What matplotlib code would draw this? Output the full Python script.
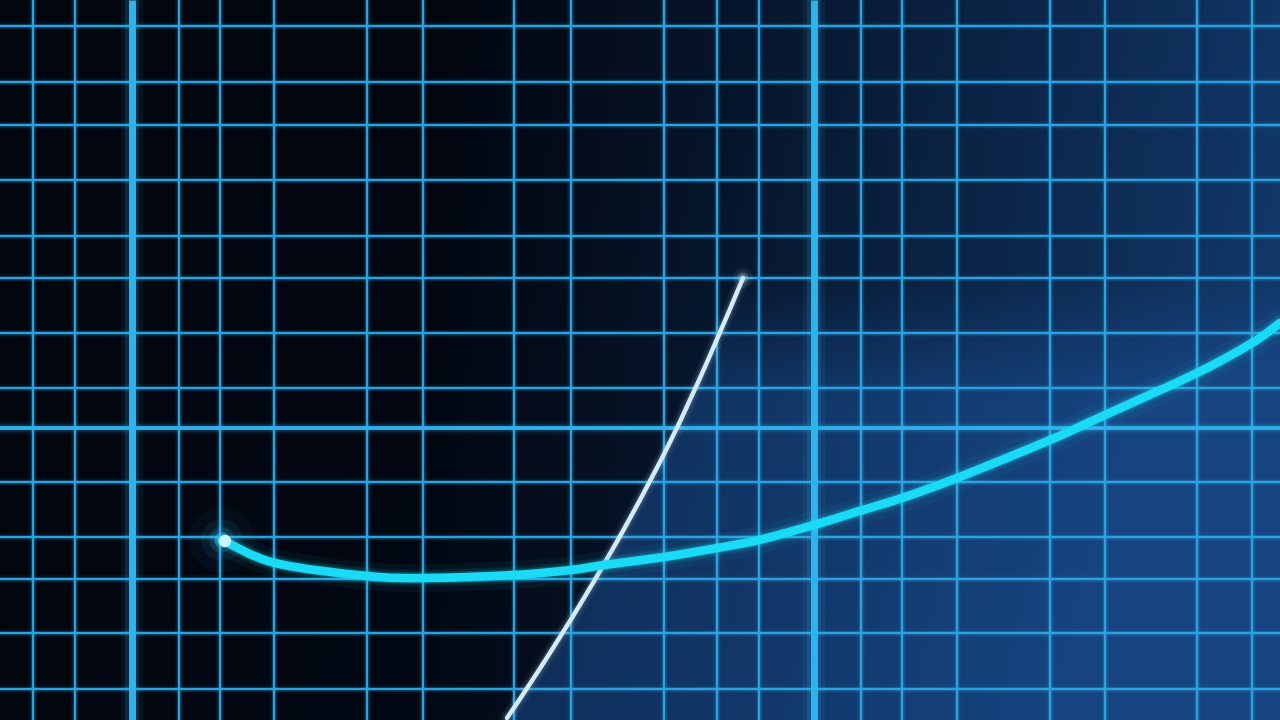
import numpy as np
import matplotlib
matplotlib.use("Agg")
import matplotlib.pyplot as plt
from matplotlib.path import Path
from matplotlib.patches import PathPatch

# ---- data (pixel-space coordinates of the scene, y downward) ----
grid_x = [33, 75, 179, 220, 274, 367, 423, 514, 571, 664, 717, 759,
          861, 902, 957, 1050, 1105, 1197, 1252]
grid_x_major = [132, 814]
grid_y = [26, 82, 125, 180, 236, 278, 333, 388, 482, 537, 579, 633, 689]
grid_y_major = [428]

cyan_x = [222, 275, 367, 427, 514, 571, 604, 664, 717, 759,
          814, 853, 902, 957, 1050, 1105, 1197, 1252, 1280]
cyan_y = [540, 563, 576, 578, 575, 570, 565, 557, 548, 540,
          525, 513, 498, 478, 440, 415, 373, 343, 323]

white_x = [743, 708, 671, 629, 584, 539, 507]
white_y = [278, 360, 440, 520, 598, 670, 718]

W, H = 1280, 720


def smooth_path(xs, ys):
    """Catmull-Rom through the points, rendered as cubic Bezier segments."""
    p = np.column_stack([xs, ys]).astype(float)
    verts = [p[0]]
    codes = [Path.MOVETO]
    n = len(p)
    for i in range(n - 1):
        p0 = p[i - 1] if i > 0 else p[i]
        p1, p2 = p[i], p[i + 1]
        p3 = p[i + 2] if i + 2 < n else p[i + 1]
        c1 = p1 + (p2 - p0) / 6.0
        c2 = p2 - (p3 - p1) / 6.0
        verts += [c1, c2, p2]
        codes += [Path.CURVE4] * 3
    return Path(verts, codes)


def draw_curve(ax, xs, ys, color, lw, alpha, z):
    patch = PathPatch(smooth_path(xs, ys), facecolor="none", edgecolor=color,
                      lw=lw, alpha=alpha, zorder=z, capstyle="round",
                      joinstyle="round")
    ax.add_patch(patch)


fig = plt.figure(figsize=(12.8, 7.2), dpi=100)
ax = fig.add_axes([0, 0, 1, 1])
ax.set_xlim(0, W)
ax.set_ylim(H, 0)
ax.axis("off")

# ---- background ----
yy, xx = np.mgrid[0:H, 0:W].astype(float)
dark = np.array([2, 6, 15]) / 255.0
blue = np.array([22, 68, 128]) / 255.0
t = np.clip((xx - 430) / 850.0, 0, 1) ** 1.1 * 0.75 + np.clip(yy / 720.0, 0, 1) * 0.15 * (xx / W)
wy = np.array(white_y, float)
wx = np.array(white_x, float)
bx = np.interp(yy, wy, wx)
edge = 1 / (1 + np.exp(-(xx - bx) / 2.0))
below = np.clip((yy - 278) / 120.0, 0, 1)
t = t + edge * below * 0.55 * np.clip(1 - (xx - 500) / 1500.0, 0.4, 1)
t = np.clip(t, 0, 1)
img = dark[None, None, :] * (1 - t[..., None]) + blue[None, None, :] * t[..., None]
ax.imshow(img, extent=[0, W, H, 0], origin="upper", zorder=0, interpolation="bilinear")


# ---- grid ----
def glow_line(fn, pos, lw, color, z):
    for w, a in [(lw * 3.2, 0.08), (lw * 2.0, 0.15)]:
        fn(pos, color=color, lw=w, alpha=a, zorder=z, solid_capstyle="butt")
    fn(pos, color=color, lw=lw, alpha=1.0, zorder=z + 0.1, solid_capstyle="butt")


for gx in grid_x:
    glow_line(ax.axvline, gx, 1.7, "#2aa2e0", 2)
for gy in grid_y:
    glow_line(ax.axhline, gy, 1.7, "#2aa2e0", 2)
for gy in grid_y_major:
    glow_line(ax.axhline, gy, 2.8, "#2fb0ec", 3)
for gx in grid_x_major:
    glow_line(ax.axvline, gx, 5.0, "#2cb4ee", 3)

# ---- white curve ----
for w, a in [(10, 0.06), (6, 0.12)]:
    draw_curve(ax, white_x, white_y, "#cfeaf8", w, a, 5)
draw_curve(ax, white_x, white_y, "#d2ecfa", 3.2, 1.0, 5.2)
for s, a in [(200, 0.08), (60, 0.2)]:
    ax.scatter([white_x[0]], [white_y[0]], s=s, color="#bfe6ff", alpha=a,
               edgecolors="none", zorder=5.3)

# ---- cyan curve ----
for w, a in [(20, 0.05), (12, 0.10), (8.5, 0.2)]:
    draw_curve(ax, cyan_x, cyan_y, "#1ad8f2", w, a, 6)
draw_curve(ax, cyan_x, cyan_y, "#19dbf5", 6.2, 1.0, 6.2)

# glowing start point
for s, a in [(2200, 0.04), (900, 0.07), (320, 0.14), (120, 0.4)]:
    ax.scatter([cyan_x[0]], [cyan_y[0]], s=s, color="#3fc8ff", alpha=a,
               edgecolors="none", zorder=7)
ax.scatter([cyan_x[0] + 3], [cyan_y[0] + 1], s=80, color="#c8f6ff", edgecolors="none", zorder=7.5)

fig.savefig("out.png", dpi=100)
